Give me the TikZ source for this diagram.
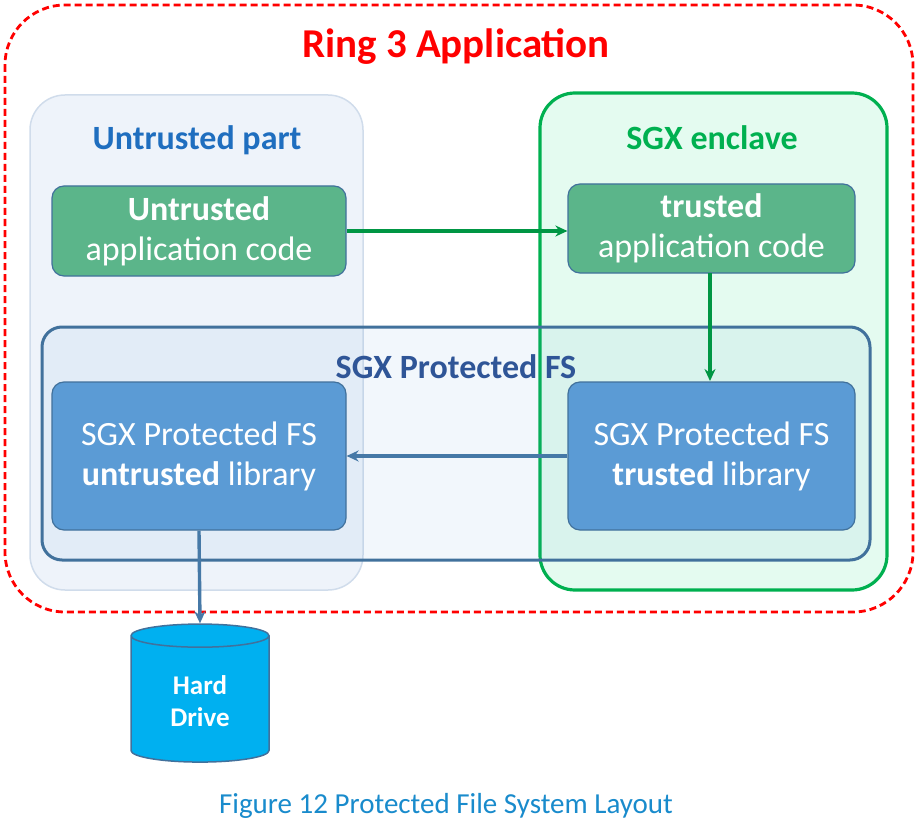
\documentclass[tikz,border=0pt]{standalone}
\usepackage{fontspec}
\setmainfont{Carlito}
\usetikzlibrary{shapes.geometric,arrows.meta}
\definecolor{ringred}{HTML}{FF0000}
\definecolor{untblue}{HTML}{1F6EBF}
\definecolor{enclgreen}{HTML}{00B050}
\definecolor{fsblue}{HTML}{2F5597}
\definecolor{codegreen}{HTML}{5BB58A}
\definecolor{libblue}{HTML}{5B9BD5}
\definecolor{edgeblue}{HTML}{41719C}
\definecolor{drive}{HTML}{00B0F0}
\begin{document}
\begin{tikzpicture}[x=1pt,y=-1pt,
  box/.style={rounded corners=12pt,draw=edgeblue,line width=1.2pt,text=white,align=center,font=\fontsize{34}{40}\selectfont},
  garrow/.style={draw=enclgreen!85!black,line width=3.2pt,-{Stealth[length=12pt,width=11pt]}},
  barrow/.style={draw=edgeblue!80!libblue,line width=3.4pt,-{Stealth[length=12pt,width=11pt]}}]
\useasboundingbox (0,0) rectangle (919,824);
\draw[ringred,line width=2.8pt,dash pattern=on 7pt off 4pt,rounded corners=60pt] (5,5) rectangle (913,612);
\node[text=ringred,font=\bfseries\fontsize{41}{48}\selectfont] (t) at (456,47) {Ring 3 Application};
\draw[fill={rgb,255:red,238;green,243;blue,250},draw={rgb,255:red,208;green,220;blue,235},line width=1.5pt,rounded corners=35pt] (30,95) rectangle (363,590);
\node[text=untblue,font=\bfseries\fontsize{34}{40}\selectfont] (ut) at (197,140) {Untrusted part};
\draw[fill={rgb,255:red,228;green,251;blue,240},draw=enclgreen,line width=3.2pt,rounded corners=35pt] (540,93) rectangle (887,590);
\node[text=enclgreen,font=\bfseries\fontsize{34}{40}\selectfont] (et) at (712,138) {SGX enclave};
\draw[fill=libblue,fill opacity=0.08,draw=edgeblue,line width=3pt,rounded corners=20pt] (42,327) rectangle (870,560);
\node[text=fsblue,font=\bfseries\fontsize{34}{40}\selectfont] (ft) at (456,367) {SGX Protected FS};
\node[box,fill=codegreen,minimum width=294pt,minimum height=90pt] (uc) at (199,231) {\textbf{Untrusted}\\[0pt]application code};
\node[box,fill=codegreen,minimum width=287pt,minimum height=89pt] (tc) at (711.5,228.5) {\textbf{trusted}\\[0pt]application code};
\node[box,fill=libblue,minimum width=294pt,minimum height=148pt] (ul) at (199,456) {SGX Protected FS\\[0pt]\textbf{untrusted} library};
\node[box,fill=libblue,minimum width=287pt,minimum height=148pt] (tl) at (711.5,456) {SGX Protected FS\\[0pt]\textbf{trusted} library};
\node[cylinder,shape border rotate=90,aspect=0.35,draw=edgeblue,line width=1.5pt,fill=drive,minimum width=138pt,minimum height=138pt,text=white,align=center,font=\bfseries\fontsize{27}{32}\selectfont] (hd) at (200,701) {Hard\\Drive};
\node[text=untblue!80!cyan,font=\fontsize{29}{34}\selectfont] (cap) at (446,806) {Figure 12 Protected File System Layout};
\draw[garrow] (uc.east) -- (tc.west |- uc.east);
\draw[garrow] (710,273) -- (710,381);
\draw[barrow] (tl.west) -- (ul.east);
\draw[barrow] (ul.south) -- (hd.top);
\end{tikzpicture}
\end{document}
